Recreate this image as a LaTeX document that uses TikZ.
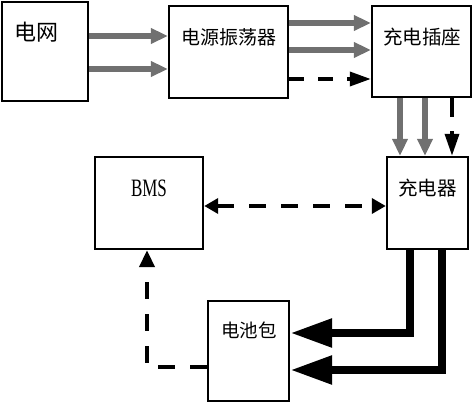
\documentclass[tikz,border=0pt]{standalone}
\usepackage{fontspec}
\setmainfont{Liberation Serif}
\newfontfamily\cjk{Noto Sans CJK SC}
\usetikzlibrary{arrows.meta}
\definecolor{arrgray}{HTML}{707070}
\tikzset{
  blk/.style={draw=black, line width=2.4pt, fill=white, inner sep=0pt},
  lbl/.style={inner sep=0pt},
  grayarr/.style={draw=arrgray, line width=6pt, -{Triangle[length=17pt,width=15pt]}},
  dasharr/.style={draw=black, line width=3.5pt, dash pattern=on 15pt off 14pt, -{Triangle[length=21pt,width=14pt]}},
  dashtwo/.style={draw=black, line width=4.5pt, dash pattern=on 17pt off 15pt, {Triangle[length=14pt,width=15pt]}-{Triangle[length=14pt,width=15pt]}},
  thickarr/.style={draw=black, line width=8.5pt, -{Triangle[length=42pt,width=27pt]}},
}
\begin{document}
\begin{tikzpicture}[x=1pt,y=-1pt]
\useasboundingbox (0,0) rectangle (474,403);
% boxes
\node[blk, minimum width=86pt, minimum height=99pt] (grid) at (45,51.5) {};
\node[blk, minimum width=119pt, minimum height=92pt] (osc) at (228.5,52) {};
\node[blk, minimum width=99pt, minimum height=91pt] (sock) at (421.5,51.5) {};
\node[blk, minimum width=81pt, minimum height=92pt] (chg) at (427.5,203) {};
\node[blk, minimum width=108pt, minimum height=92pt] (bms) at (149,203) {};
\node[blk, minimum width=81pt, minimum height=100pt] (bat) at (248.5,351) {};
% labels
\node[lbl] (tgrid) at (36,32) {\cjk\fontsize{22}{22}\selectfont 电网};
\node[lbl] (tosc) at (229,37) {\cjk\fontsize{19}{19}\selectfont 电源振荡器};
\node[lbl] (tsock) at (422,37) {\cjk\fontsize{19.5}{19.5}\selectfont 充电插座};
\node[lbl] (tchg) at (427.5,188) {\cjk\fontsize{19.5}{19.5}\selectfont 充电器};
\node[lbl] (tbat) at (249,330) {\cjk\fontsize{18.5}{18.5}\selectfont 电池包};
\node[lbl] (tbms) at (149,188) {\fontsize{25}{25}\selectfont\scalebox{0.68}[1]{BMS}};
% grid -> oscillator
\draw[grayarr] (grid.east |- 0,36) -- (osc.west |- 0,36);
\draw[grayarr] (grid.east |- 0,69) -- (osc.west |- 0,69);
% oscillator -> socket
\draw[grayarr] (osc.east |- 0,23) -- (sock.west |- 0,23);
\draw[grayarr] (osc.east |- 0,50) -- (sock.west |- 0,50);
\draw[dasharr] (osc.east |- 0,79) -- (sock.west |- 0,79);
% socket -> charger
\draw[grayarr] (sock.south -| 400,0) -- (chg.north -| 400,0);
\draw[grayarr] (sock.south -| 425,0) -- (chg.north -| 425,0);
\draw[draw=black, line width=3.5pt, dash pattern=on 19pt off 14pt, -{Triangle[length=22pt,width=14pt]}] (sock.south -| 452,0) -- (chg.north -| 452,0);
% BMS <-> charger
\draw[dashtwo] (bms.east |- 0,206) -- (chg.west |- 0,206);
% charger -> battery
\draw[thickarr] (chg.south -| 410,0) |- (bat.east |- 0,333);
\draw[thickarr] (chg.south -| 442,0) |- (bat.east |- 0,370);
% battery -> BMS
\coordinate (corner) at (147,367);
\draw[draw=black, line width=4.5pt, dash pattern=on 17pt off 15pt, -{Triangle[length=17pt,width=15pt]}] (bat.west |- 0,367) -- (corner) -- (bms.south -| corner);
\end{tikzpicture}
\end{document}
